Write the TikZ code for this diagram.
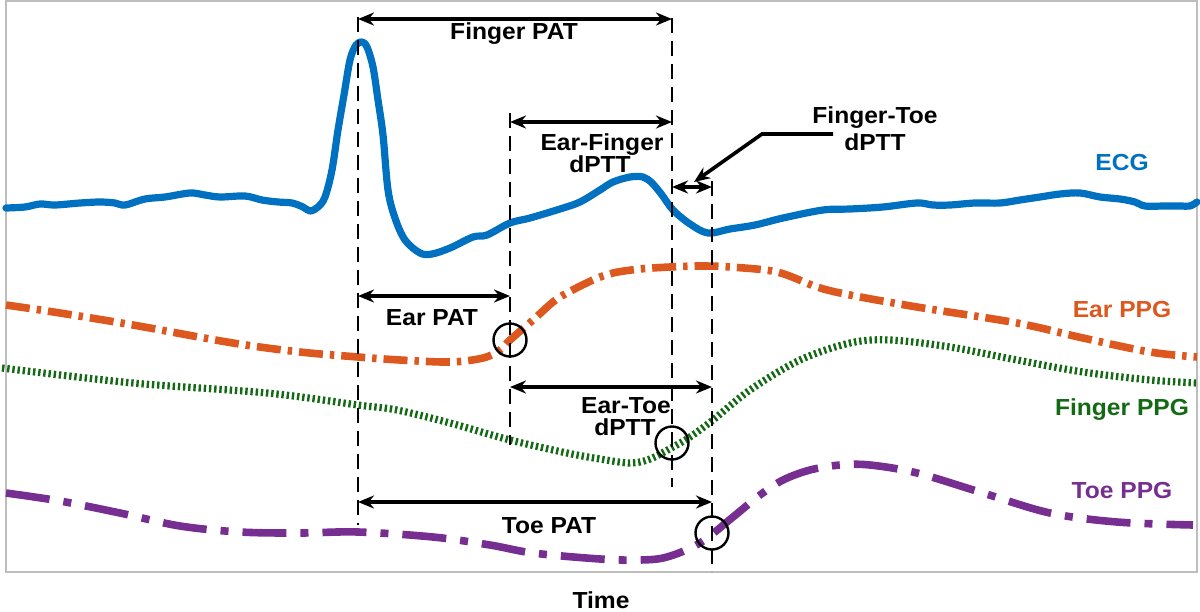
\documentclass[tikz,border=0pt]{standalone}
\usepackage{fontspec}
\setmainfont[FakeStretch=1.06]{Liberation Sans}
\usetikzlibrary{arrows.meta}
\definecolor{ecgblue}{RGB}{0,112,192}
\definecolor{earorange}{RGB}{220,88,30}
\definecolor{fingreen}{RGB}{20,105,20}
\definecolor{toepurple}{RGB}{118,46,145}
\definecolor{framegray}{RGB}{190,190,190}
\tikzset{
  lab/.style={font=\fontsize{11.6}{13}\selectfont\bfseries, inner sep=0pt, anchor=base},
  vdash/.style={black, line width=1.4pt, dash pattern=on 7.5pt off 4pt},
  meas/.style={black, line width=1.8pt, {Stealth[length=8pt,width=6.5pt]}-{Stealth[length=8pt,width=6.5pt]}},
  lead/.style={black, line width=1.8pt, -{Stealth[length=8pt,width=6.5pt]}},
  ring/.style={circle, draw=black, line width=1.2pt, minimum size=16.5pt, inner sep=0pt},
  ecgline/.style={ecgblue, line width=3.6pt, line cap=round, line join=round},
  earline/.style={earorange, line width=3.8pt, dash pattern=on 12pt off 3.5pt on 2.2pt off 3.5pt},
  finline/.style={fingreen, line width=3.6pt, dash pattern=on 1.2pt off 1.4pt},
  toeline/.style={toepurple, line width=3.8pt, dash pattern=on 22pt off 7pt on 4pt off 7pt},
}
\begin{document}
\begin{tikzpicture}[x=0.5pt,y=-0.5pt]
\useasboundingbox (0,0) rectangle (1200,611);
\draw[framegray, line width=1.2pt] (6,1) rectangle (1197,572);

% signals
\draw[ecgline] plot[smooth, tension=0.55] coordinates {
(6,208) (25,207) (40,204) (55,205) (80,203) (100,202) (115,203) (125,205) (145,199) (165,197) (190,193) (205,195) (220,197) (245,196) (262,200) (278,202) (292,203) (303,207) (310,211) (318,207) (325,197) (332,170) (338,130) (344,95) (350,60) (356,45) (362,42) (367,47) (373,67) (378,100) (383,135) (388,190) (395,218) (405,240) (420,253) (432,254) (450,248) (473,237) (487,235) (510,223) (530,218) (560,209) (580,202) (600,190) (613,182) (630,177) (643,177) (652,183) (662,195) (673,210) (690,224) (708,233) (730,229) (755,225) (783,218) (823,210) (850,209) (883,207) (917,203) (933,205) (950,205) (975,203) (1000,203) (1020,200) (1040,197) (1060,194) (1080,193) (1100,197) (1120,199) (1135,202) (1145,206) (1165,206) (1180,206) (1190,206) (1197,202)};

\draw[earline] plot[smooth, tension=0.55] coordinates {
(6,305) (60,313) (133,325) (233,343) (300,352) (358,357) (400,360) (450,362) (483,358) (500,350) (510,340) (533,320) (553,302) (567,293) (593,280) (613,273) (640,269) (670,267) (700,266) (730,267) (777,272) (817,287) (850,295) (917,307) (1017,323) (1083,338) (1150,352) (1197,357)};

\draw[finline] plot[smooth, tension=0.55] coordinates {
(2,368) (133,383) (267,393) (358,405) (397,410) (450,423) (510,440) (567,453) (600,459) (630,463) (650,459) (673,447) (690,437) (713,420) (750,390) (800,360) (850,343) (890,340) (950,347) (1017,360) (1083,372) (1150,380) (1197,383)};

\draw[toeline] plot[smooth, tension=0.55] coordinates {
(6,493) (60,501) (120,513) (180,526) (240,532) (300,533) (358,532) (433,537) (490,545) (533,553) (600,559) (640,560) (667,557) (700,543) (733,517) (760,495) (783,480) (810,470) (840,465) (870,465) (917,473) (983,493) (1050,513) (1117,522) (1193,525)};

% vertical reference lines
\coordinate (v1t) at (358,17);  \coordinate (v1b) at (358,525);
\coordinate (v2t) at (510,113); \coordinate (v2b) at (510,445);
\coordinate (v3t) at (672,18);  \coordinate (v3b) at (672,487);
\coordinate (v4t) at (712,181); \coordinate (v4b) at (712,572);
\draw[vdash] (v1t) -- (v1b);
\draw[vdash] (v2t) -- (v2b);
\draw[vdash] (v3t) -- (v3b);
\draw[vdash] (v4t) -- (v4b);

% measurement arrows
\coordinate (fpL) at (358,19);  \coordinate (fpR) at (672,19);
\coordinate (efL) at (510,122); \coordinate (efR) at (672,122);
\coordinate (ftL) at (672,187); \coordinate (ftR) at (712,187);
\coordinate (epL) at (358,296); \coordinate (epR) at (510,296);
\coordinate (etL) at (510,387); \coordinate (etR) at (712,387);
\coordinate (tpL) at (358,502); \coordinate (tpR) at (712,502);
\draw[meas] (fpL) -- (fpR);
\draw[meas] (efL) -- (efR);
\draw[meas] (ftL) -- (ftR);
\draw[meas] (epL) -- (epR);
\draw[meas] (etL) -- (etR);
\draw[meas] (tpL) -- (tpR);

% leader for Finger-Toe dPTT
\coordinate (ldA) at (833,134);
\coordinate (ldB) at (762,134);
\coordinate (ldC) at (694,182);
\draw[lead] (ldA) -- (ldB) -- (ldC);

% circles
\node[ring] (c1) at (510,340) {};
\node[ring] (c2) at (672,443) {};
\node[ring] (c3) at (712,533) {};

% labels
\node[lab] (tFP) at (514,39) {Finger PAT};
\node[lab] (tEF1) at (602,150) {Ear-Finger};
\node[lab] (tEF2) at (600,172) {dPTT};
\node[lab] (tFT1) at (875,123) {Finger-Toe};
\node[lab] (tFT2) at (875,150) {dPTT};
\node[lab] (tEP) at (432,325) {Ear PAT};
\node[lab] (tET1) at (626,413) {Ear-Toe};
\node[lab] (tET2) at (625,435) {dPTT};
\node[lab] (tTP) at (549,533) {Toe PAT};
\node[lab] (tTime) at (601,608) {Time};
\node[lab, text=ecgblue] (tECG) at (1122,170) {ECG};
\node[lab, text=earorange] (tEar) at (1122,317) {Ear PPG};
\node[lab, text=fingreen] (tFin) at (1122,415) {Finger PPG};
\node[lab, text=toepurple] (tToe) at (1122,498) {Toe PPG};
\end{tikzpicture}
\end{document}
